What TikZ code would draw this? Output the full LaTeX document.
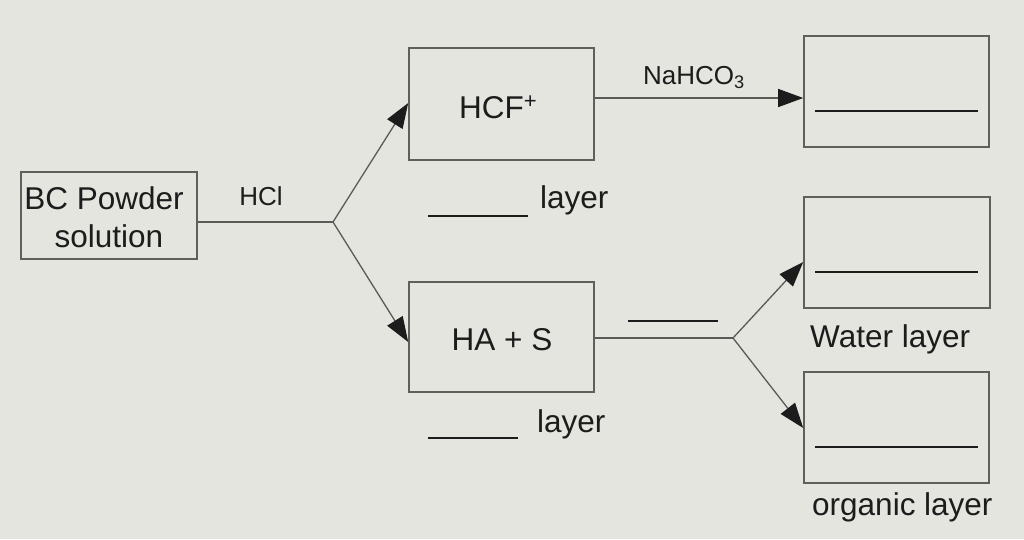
\documentclass[tikz,border=0pt]{standalone}
\usepackage{fontspec}
\setmainfont{Liberation Sans}
\usetikzlibrary{arrows.meta}
\definecolor{bgc}{RGB}{228,229,223}
\definecolor{boxc}{RGB}{95,95,92}
\definecolor{linec}{RGB}{90,90,88}
\definecolor{txtc}{RGB}{28,28,28}
\tikzset{
  boxnode/.style={draw=boxc, line width=1.6pt, rectangle, inner sep=0pt},
  conn/.style={draw=linec, line width=1.3pt},
  arr/.style={conn, -{Triangle[length=25pt,width=18pt,color=txtc,fill=txtc]}},
  lbl/.style={text=txtc, font=\fontsize{31.5}{36}\selectfont, inner sep=0pt, anchor=base},
  smlbl/.style={text=txtc, font=\fontsize{26}{30}\selectfont, inner sep=0pt, anchor=base},
  blank/.style={draw=txtc, line width=2.2pt},
}
\begin{document}
\begin{tikzpicture}[x=1pt,y=-1pt]
\fill[bgc] (0,0) rectangle (1024,539);
\useasboundingbox (0,0) rectangle (1024,539);

% boxes
\node[boxnode, minimum width=176pt, minimum height=87pt] (bc) at (109,215.5) {};
\node[boxnode, minimum width=185pt, minimum height=112pt] (hcf) at (501.5,104) {};
\node[boxnode, minimum width=185pt, minimum height=110pt] (has) at (501.5,337) {};
\node[boxnode, minimum width=185pt, minimum height=111pt] (r1) at (896.5,91.5) {};
\node[boxnode, minimum width=186pt, minimum height=111pt] (r2) at (897,252.5) {};
\node[boxnode, minimum width=185pt, minimum height=111pt] (r3) at (896.5,427.5) {};

% texts in boxes
\node[lbl] (t1) at (104,209) {BC Powder};
\node[lbl] (t2) at (109,247) {solution};
\node[lbl, anchor=base west] (t3) at (459,118) {HCF\textsuperscript{+}};
\node[lbl] (t4) at (502,350) {HA + S};

% branch points
\coordinate (b1) at (333,222);
\coordinate (b2) at (733,338);

% connectors
\draw[conn] ([yshift=-6.5pt]bc.east) -- (b1);
\draw[arr] (b1) -- ([yshift=1pt]hcf.west);
\draw[arr] (b1) -- ([yshift=-5pt]has.west);
\draw[arr] ([yshift=6pt]hcf.east) -- ([yshift=-6.5pt]r1.west);
\draw[conn] ([yshift=-1pt]has.east) -- (b2);
\draw[arr] (b2) -- ([yshift=-9.5pt]r2.west);
\draw[arr] (b2) -- ([yshift=-0.5pt]r3.west);

% connector labels
\node[smlbl] (hcl) at (261,205) {HCl};
\node[smlbl, anchor=base west] (nah) at (643,84) {NaHCO\textsubscript{3}};

% blanks and layer labels
\coordinate (u1) at (428,216); \coordinate (u2) at (528,216);
\draw[blank] (u1) -- (u2);
\node[lbl, anchor=base west] (lay1) at (540,208) {layer};
\coordinate (l1) at (428,438); \coordinate (l2) at (518,438);
\draw[blank] (l1) -- (l2);
\node[lbl, anchor=base west] (lay2) at (537,432) {layer};
\coordinate (m1) at (628,321); \coordinate (m2) at (718,321);
\draw[blank] (m1) -- (m2);
\coordinate (p1) at (815,111); \coordinate (p2) at (978,111);
\draw[blank] (p1) -- (p2);
\coordinate (q1) at (815,272); \coordinate (q2) at (978,272);
\draw[blank] (q1) -- (q2);
\coordinate (s1) at (815,447); \coordinate (s2) at (978,447);
\draw[blank] (s1) -- (s2);

\node[lbl, anchor=base west] (wl) at (810,347) {Water layer};
\node[lbl, anchor=base west] (ol) at (812,515) {organic layer};
\end{tikzpicture}
\end{document}
